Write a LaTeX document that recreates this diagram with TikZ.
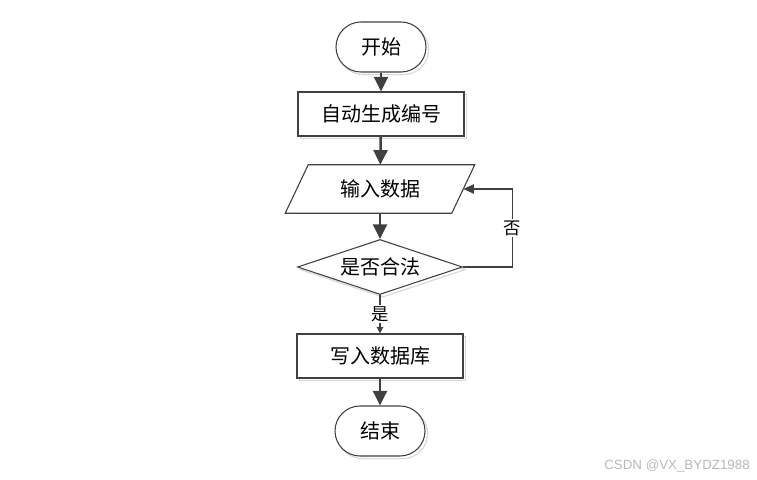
\documentclass[tikz,border=0pt]{standalone}
\usepackage{fontspec}
\newfontfamily\cjk{Noto Sans CJK SC}
\newfontfamily\wm{Liberation Sans}
\usetikzlibrary{shapes.geometric,arrows.meta,calc,shadows}
\pgfdeclarelayer{bg}
\pgfsetlayers{bg,main}
\definecolor{ln}{HTML}{404040}
\definecolor{sh}{HTML}{D6D6D6}
\begin{document}
\begin{tikzpicture}[x=0.75pt,y=-0.75pt,
 base/.style={draw=ln, line width=0.8pt, fill=white, font=\cjk\fontsize{15pt}{18pt}\selectfont, text=black, inner sep=0pt},
 shd/.style={copy shadow={shadow xshift=2pt, shadow yshift=-2pt, draw=sh, fill=white}},
 term/.style={base, shd, rectangle, rounded corners=18.75pt, minimum width=67.5pt, minimum height=37.5pt},
 proc/.style={base, shd, rectangle, minimum width=124.5pt, minimum height=33pt},
 dec/.style={base, shd, diamond, aspect=3, minimum width=123.75pt, minimum height=41.25pt},
 flow/.style={draw=ln, line width=1.9pt, -{Triangle[length=11pt,width=10.5pt]}},
 thinline/.style={draw=ln, line width=0.9pt},
 lab/.style={fill=white, font=\cjk\fontsize{13pt}{15pt}\selectfont, inner sep=1pt}]
\useasboundingbox (0,0) rectangle (757,479);
\node[term] (start) at (381,47) {开始};
\node[proc] (auto) at (381,114) {自动生成编号};
\node[font=\cjk\fontsize{15pt}{18pt}\selectfont, inner sep=0pt, minimum width=124.5pt, minimum height=36pt] (in) at (380,189) {输入数据};
\begin{pgfonlayer}{bg}
\draw[sh, line width=0.8pt, fill=white, xshift=2pt, yshift=-2pt]
  ($(in.north west)+(11.5,0)$) -- ($(in.north east)+(11.5,0)$) -- ($(in.south east)+(-11.5,0)$) -- ($(in.south west)+(-11.5,0)$) -- cycle;
\draw[ln, line width=0.8pt, fill=white]
  ($(in.north west)+(11.5,0)$) -- ($(in.north east)+(11.5,0)$) -- ($(in.south east)+(-11.5,0)$) -- ($(in.south west)+(-11.5,0)$) -- cycle;
\end{pgfonlayer}
\node[dec] (chk) at (380,267) {是否合法};
\node[proc] (db) at (380,356) {写入数据库};
\node[term] (end) at (380,431) {结束};
\draw[flow] (start) -- (auto);
\draw[flow] (auto) -- (in);
\draw[flow] (in) -- (chk);
\draw[flow] (db) -- (end);
\coordinate (lp) at ($(in.east)+(49,0)$);
\draw[thinline, -{Triangle[length=8pt,width=7pt]}] (chk.east) -| (lp) -- (in.east);
\node[lab] (no) at (512,228) {否};
\draw[thinline, -{Triangle[length=5pt,width=5pt]}] (chk.south) -- (db.north);
\node[lab] (yes) at (380,314) {是};
\node[font=\wm\fontsize{10pt}{11pt}\selectfont, text=black!28, anchor=east, inner sep=0pt] (wm) at (750,466) {CSDN @VX\_BYDZ1988};
\end{tikzpicture}
\end{document}
